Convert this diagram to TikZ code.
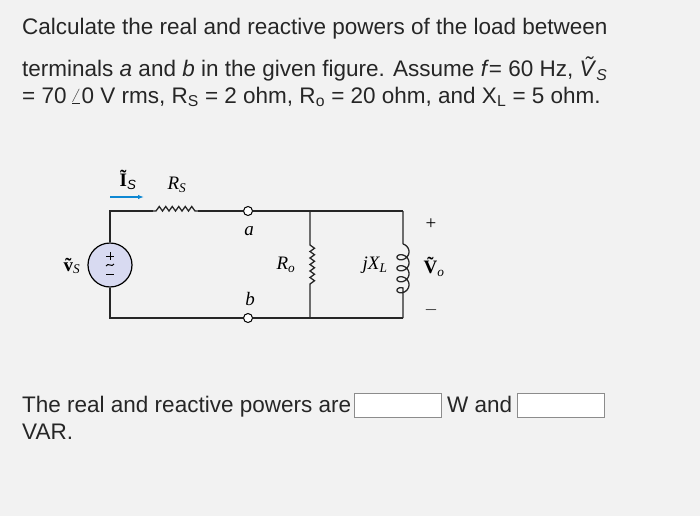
\documentclass[tikz,border=0pt]{standalone}
\usepackage{fontspec}
\setmainfont{Liberation Sans}
\newfontfamily\cserif{Liberation Serif}
\usetikzlibrary{arrows.meta}
\begin{document}
\begin{tikzpicture}[x=1pt,y=-1pt,
  wire/.style={line width=1.3pt,black!85},
  qtext/.style={anchor=base west,inner sep=0pt,font=\fontsize{22.5}{24}\selectfont,text=black!85},
  clab/.style={inner sep=0pt,font=\cserif\fontsize{19}{20}\selectfont},
  ansbox/.style={draw=black!45,fill=white,line width=0.7pt,minimum width=87pt,minimum height=24pt,inner sep=0pt}]
\fill[black!5] (0,0) rectangle (700,516);
\useasboundingbox (0,0) rectangle (700,516);
\node[qtext] (l1) at (22,35) {Calculate the real and reactive powers of the load between};
\node[qtext] (l2) at (22,77) {terminals \textit{a} and \textit{b} in the given figure. Assume \textit{f}= 60 Hz, \textit{\~{V}}\textsubscript{\textit{S}}};
\node[qtext] (l3) at (22,103) {= 70\,$\angle$0 V rms, R\textsubscript{S} = 2 ohm, R\textsubscript{o} = 20 ohm, and X\textsubscript{L} = 5 ohm.};
% circuit
\coordinate (tl) at (110,211); \coordinate (bl) at (110,318);
\coordinate (r1) at (153,211); \coordinate (r2) at (198,211);
\node[circle,draw,line width=1pt,minimum size=9pt,inner sep=0pt,fill=white] (a) at (248,211) {};
\node[circle,draw,line width=1pt,minimum size=9pt,inner sep=0pt,fill=white] (b) at (248,318) {};
\coordinate (ot) at (310,211); \coordinate (ob) at (310,318);
\coordinate (lt) at (403,211); \coordinate (lb) at (403,318);
\node[circle,draw,line width=1.2pt,fill=cyan!30!blue!15,minimum size=44pt,inner sep=0pt] (src) at (110,265) {};
\draw[line width=1pt] (106,256) -- (114,256) (110,252) -- (110,260);
\draw[line width=1pt] (106,266) .. controls (108,262) and (112,268) .. (114,264);
\draw[line width=1pt] (106,274) -- (114,274);
\draw[wire] (src.north) -- (tl) -- (r1);
\draw[wire] (r1) -- ++(3,0) \foreach \i in {0,...,5}{ -- ++(3.25,-4.5) -- ++(3.25,4.5)} -- (r2);
\draw[wire] (r2) -- (a.west);
\draw[wire] (a.east) -- (lt);
\draw[wire] (src.south) -- (bl) -- (b.west);
\draw[wire] (b.east) -- (lb);
\draw[wire] (ot) -- (310,245) \foreach \i in {0,...,5}{ -- ++(4.5,3.25) -- ++(-4.5,3.25)} -- (ob);
\draw[wire] (lt) -- (403,244) plot[domain=0:1440,samples=120,smooth,variable=\t] ({403+6*sin(\t)},{244+11*\t/360+5*(1-cos(\t))}) -- (lb);
% labels
\node[clab,font=\cserif\bfseries\fontsize{19}{19}\selectfont] (is) at (128,180) {\~{I}\textsubscript{\normalfont\itshape S}};
\draw[-{Latex[length=6pt]},cyan!70!blue,line width=1.3pt] (110,197) -- (144,197);
\node[clab] (rs) at (177,185) {\textit{R\textsubscript{S}}};
\node[clab] at (249,231) {\textit{a}};
\node[clab] at (250,299) {\textit{b}};
\node[clab] at (72,266) {\textbf{\~{v}}\textsubscript{\itshape S}};
\node[clab] at (286,265) {\textit{R\textsubscript{o}}};
\node[clab] at (375,265) {\textit{jX\textsubscript{L}}};
\node[clab] at (431,224) {+};
\node[clab] at (431,310) {$-$};
\node[clab] at (434,267) {\textbf{\~{V}}\textsubscript{\itshape o}};
% answer line
\node[qtext] (l4) at (22,412) {The real and reactive powers are};
\node[ansbox] (bx1) at (398,405) {};
\node[qtext] (l5) at (447,412) {W and};
\node[ansbox] (bx2) at (561,405) {};
\node[qtext] (l6) at (22,439) {VAR.};
\end{tikzpicture}
\end{document}
